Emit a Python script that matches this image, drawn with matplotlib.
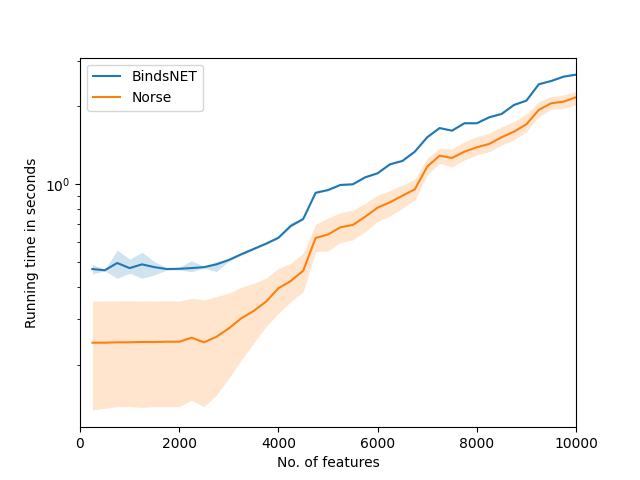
import matplotlib
matplotlib.use("Agg")
import matplotlib.pyplot as plt
import numpy as np

features = list(range(250, 10001, 250))

bindsnet_mean = [0.470, 0.465, 0.496, 0.474, 0.490, 0.478, 0.470, 0.471, 0.474, 0.478,
                 0.490, 0.5095, 0.536, 0.562, 0.589, 0.621, 0.690, 0.734, 0.927, 0.950,
                 0.994, 1.000, 1.064, 1.103, 1.195, 1.231, 1.337, 1.520, 1.650, 1.612,
                 1.722, 1.722, 1.816, 1.871, 2.027, 2.106, 2.437, 2.509, 2.608, 2.655]
bindsnet_low = [0.450, 0.462, 0.433, 0.453, 0.433, 0.446, 0.466, 0.466, 0.459, 0.474,
                0.459, 0.505, 0.531, 0.557, 0.584, 0.616, 0.682, 0.728, 0.920, 0.944,
                0.988, 0.994, 1.057, 1.096, 1.188, 1.224, 1.329, 1.511, 1.641, 1.603,
                1.713, 1.713, 1.806, 1.861, 2.016, 2.095, 2.425, 2.496, 2.595, 2.641]
bindsnet_high = [0.490, 0.468, 0.557, 0.513, 0.546, 0.502, 0.475, 0.478, 0.506, 0.482,
                 0.502, 0.514, 0.541, 0.567, 0.594, 0.628, 0.710, 0.742, 0.934, 0.956,
                 1.000, 1.006, 1.071, 1.110, 1.202, 1.238, 1.345, 1.529, 1.659, 1.621,
                 1.731, 1.731, 1.826, 1.881, 2.038, 2.117, 2.449, 2.522, 2.621, 2.669]

norse_mean = [0.2439, 0.2439, 0.2447, 0.2447, 0.2454, 0.2454, 0.2460, 0.2460, 0.2550, 0.2447,
              0.257, 0.277, 0.303, 0.3236, 0.3514, 0.396, 0.4226, 0.463, 0.620, 0.639,
              0.682, 0.696, 0.749, 0.812, 0.852, 0.903, 0.956, 1.170, 1.290, 1.264,
              1.337, 1.390, 1.432, 1.520, 1.598, 1.707, 1.939, 2.058, 2.087, 2.171]
norse_low = [0.134, 0.136, 0.138, 0.138, 0.137, 0.138, 0.138, 0.138, 0.146, 0.138,
             0.153, 0.1777, 0.209, 0.2426, 0.2812, 0.317, 0.3514, 0.384, 0.549, 0.552,
             0.595, 0.609, 0.656, 0.717, 0.754, 0.808, 0.870, 1.086, 1.206, 1.167,
             1.242, 1.298, 1.337, 1.419, 1.484, 1.598, 1.826, 1.950, 1.968, 2.027]
norse_high = [0.3535, 0.3530, 0.3535, 0.3540, 0.3535, 0.3535, 0.3540, 0.3535, 0.362, 0.357,
              0.368, 0.379, 0.3995, 0.414, 0.433, 0.473, 0.495, 0.541, 0.700, 0.740,
              0.777, 0.795, 0.844, 0.909, 0.945, 0.994, 1.045, 1.261, 1.378, 1.368,
              1.462, 1.528, 1.575, 1.670, 1.747, 1.871, 2.087, 2.183, 2.216, 2.282]

fig, ax = plt.subplots(figsize=(6.4, 4.8), dpi=100)
ax.fill_between(features, bindsnet_low, bindsnet_high, color="C0", alpha=0.2, linewidth=0)
ax.fill_between(features, norse_low, norse_high, color="C1", alpha=0.2, linewidth=0)
ax.plot(features, bindsnet_mean, color="C0", label="BindsNET")
ax.plot(features, norse_mean, color="C1", label="Norse")
ax.set_yscale("log")
ax.set_xlim(0, 10000)
ax.set_ylim(0.1149, 3.09)
ax.set_xlabel("No. of features")
ax.set_ylabel("Running time in seconds")
ax.legend(loc="upper left")
fig.savefig("out.png", dpi=100)
